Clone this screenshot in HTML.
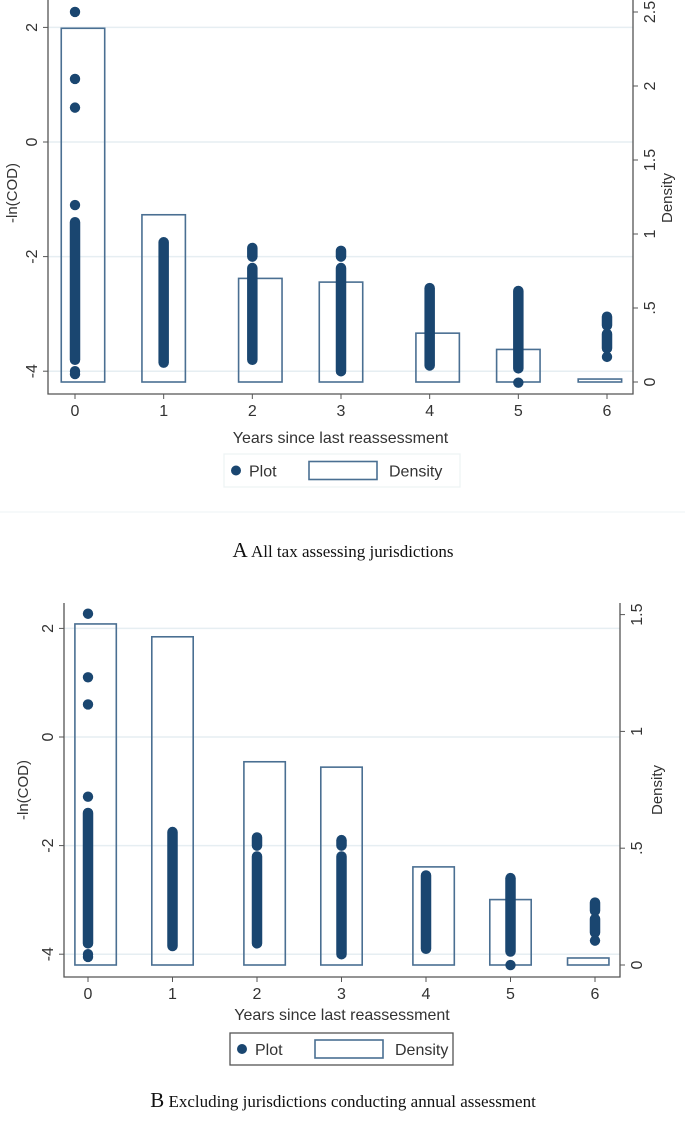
<!DOCTYPE html>
<html><head><meta charset="utf-8"><style>
html,body{margin:0;padding:0;background:#fff}
svg{display:block}
.t{font-family:"Liberation Sans",Arial,sans-serif;fill:#333}
.cap{font-family:"Liberation Serif",serif;fill:#111}
</style></head><body>
<svg id="chart" width="685" height="1143" viewBox="0 0 685 1143" xmlns="http://www.w3.org/2000/svg">
<line x1="0" y1="512" x2="685" y2="512" stroke="#eef3f5" stroke-width="1"/>
<text class="cap" x="343" y="557" text-anchor="middle" font-size="17"><tspan font-size="21">A</tspan> All tax assessing jurisdictions</text>
<text class="cap" x="343" y="1107" text-anchor="middle" font-size="17"><tspan font-size="21">B</tspan> Excluding jurisdictions conducting annual assessment</text>
</svg>
<script>
// ---- Data ----
const years = [0,1,2,3,4,5,6];
const leftTicks = [-4,-2,0,2];
const densityTicksA = [0,0.5,1,1.5,2,2.5];
const densityTickLabelsA = ["0",".5","1","1.5","2","2.5"];
const densityTicksB = [0,0.5,1,1.5];
const densityTickLabelsB = ["0",".5","1","1.5"];
const binCenters = [0.09,1.0,2.09,3.0,4.09,5.0,5.92];
const binWidth = 0.49;
const densityA = [2.39,1.13,0.70,0.675,0.33,0.22,0.02];
const densityB = [1.46,1.405,0.87,0.847,0.42,0.28,0.03];
// dense ranges of -ln(COD) per year: [year, low, high]
const plotRangesA = [[0,-3.8,-1.4],[1,-3.85,-1.75],[2,-2.0,-1.85],[2,-3.8,-2.2],[3,-2.0,-1.9],[3,-4.0,-2.2],[4,-3.9,-2.55],[5,-3.95,-2.6],[6,-3.2,-3.05],[6,-3.6,-3.35]];
// individual points: [year, value]
const plotPointsA = [[0,2.27],[0,1.1],[0,0.6],[0,-1.1],[0,-4.0],[0,-4.05],[5,-4.2],[6,-3.75]];
const plotRangesB = plotRangesA;
const plotPointsB = plotPointsA;

const NS="http://www.w3.org/2000/svg";
const svg=document.getElementById('chart');
function mk(tag,attrs,parent){const e=document.createElementNS(NS,tag);for(const k in attrs)e.setAttribute(k,attrs[k]);(parent||svg).appendChild(e);return e;}
const DARK="#1a4670", BAR="#4a6f92";

function panel(cfg){
  const g=mk('g',{});
  
  
  const xs=v=>cfg.x0+(v)*(cfg.x6-cfg.x0)/6;
  const ys=v=>cfg.yZero+(-v)*cfg.yUnit;
  const ds=v=>cfg.dZero-v*cfg.dUnit;
  leftTicks.forEach(t=>{
    const l=mk('line',{x1:cfg.L,x2:cfg.R,y1:ys(t),y2:ys(t),stroke:"#e6eef2","stroke-width":1.5},g);
    
    
  });
  cfg.dens.forEach((d,i)=>{
    const x1=xs(binCenters[i]-binWidth/2), x2=xs(binCenters[i]+binWidth/2);
    const r=mk('rect',{x:x1,y:ds(d),width:x2-x1,height:Math.max(cfg.dZero-ds(d),1),fill:"none",stroke:BAR,"stroke-width":1.6},g);
    
    
  });
  cfg.ranges.forEach(rg=>{
    const l=mk('line',{x1:xs(rg[0]),x2:xs(rg[0]),y1:ys(rg[1]),y2:ys(rg[2]),stroke:DARK,"stroke-width":10.5,"stroke-linecap":"round"},g);
    
    
  });
  cfg.points.forEach(p=>{
    const c=mk('circle',{cx:xs(p[0]),cy:ys(p[1]),r:5.2,fill:DARK},g);
    
    
  });
  const ax=mk('path',{d:`M${cfg.L},${cfg.T} V${cfg.B} H${cfg.R} V${cfg.T}`,fill:"none",stroke:"#555","stroke-width":1.3},g);
  
  
  years.forEach(t=>{
    mk('line',{x1:xs(t),x2:xs(t),y1:cfg.B,y2:cfg.B+5,stroke:"#555"},g);
    const tx=mk('text',{class:'t',x:xs(t),y:cfg.B+22,"text-anchor":"middle","font-size":16},g);
    tx.textContent=t;
    
    
  });
  leftTicks.forEach(t=>{
    mk('line',{x1:cfg.L-5,x2:cfg.L,y1:ys(t),y2:ys(t),stroke:"#555"},g);
    const tx=mk('text',{class:'t',x:0,y:0,"text-anchor":"middle","font-size":16,transform:`translate(${cfg.L-11},${ys(t)}) rotate(-90)`},g);
    tx.textContent=t;
    
    
  });
  cfg.dTicks.forEach((t,i)=>{
    mk('line',{x1:cfg.R,x2:cfg.R+5,y1:ds(t),y2:ds(t),stroke:"#555"},g);
    const tx=mk('text',{class:'t',x:0,y:0,"text-anchor":"middle","font-size":16,transform:`translate(${cfg.R+22},${ds(t)}) rotate(-90)`},g);
    tx.textContent=cfg.dLabels[i];
    
    
  });
  const yl=mk('text',{class:'t',x:0,y:0,"text-anchor":"middle","font-size":15,transform:`translate(${cfg.ylx},${cfg.yly}) rotate(-90)`},g);
  yl.textContent='-ln(COD)';
  
  
  const dl=mk('text',{class:'t',x:0,y:0,"text-anchor":"middle","font-size":15,transform:`translate(${cfg.dlx},${cfg.dly}) rotate(-90)`},g);
  dl.textContent='Density';
  
  
  const xt=mk('text',{class:'t',x:(cfg.L+cfg.R)/2,y:cfg.xty,"text-anchor":"middle","font-size":16},g);
  xt.textContent='Years since last reassessment';
  
  
  const lg=mk('g',{},g);
  
  
  const lb=cfg.leg;
  mk('rect',{x:lb[0],y:lb[1],width:lb[2],height:lb[3],fill:"#fff",stroke:cfg.legStroke,"stroke-width":1.3},lg);
  const cy=lb[1]+lb[3]/2;
  mk('circle',{cx:lb[0]+12,cy:cy,r:5,fill:DARK},lg);
  const t1=mk('text',{class:'t',x:lb[0]+25,y:cy+6,"font-size":16},lg);t1.textContent='Plot';
  
  
  mk('rect',{x:lb[0]+85,y:cy-9,width:68,height:18,fill:"none",stroke:BAR,"stroke-width":1.6},lg);
  const t2=mk('text',{class:'t',x:lb[0]+165,y:cy+6,"font-size":16},lg);t2.textContent='Density';
  
  
}
panel({name:'panel-a',L:48,R:633,T:0,B:394,x0:75,x6:607,yZero:142,yUnit:57.3,dZero:382,dUnit:148,
  dens:densityA,ranges:plotRangesA,points:plotPointsA,dTicks:densityTicksA,dLabels:densityTickLabelsA,
  ylx:17,yly:193,dlx:672,dly:198,xty:443,leg:[224,454,236,33],legStroke:"#eef3f5"});
panel({name:'panel-b',L:64,R:620,T:603,B:977,x0:88,x6:595,yZero:737,yUnit:54.3,dZero:965,dUnit:233.6,
  dens:densityB,ranges:plotRangesB,points:plotPointsB,dTicks:densityTicksB,dLabels:densityTickLabelsB,
  ylx:28,yly:790,dlx:662,dly:790,xty:1020,leg:[230,1033,223,32],legStroke:"#555"});
</script>
</body></html>
